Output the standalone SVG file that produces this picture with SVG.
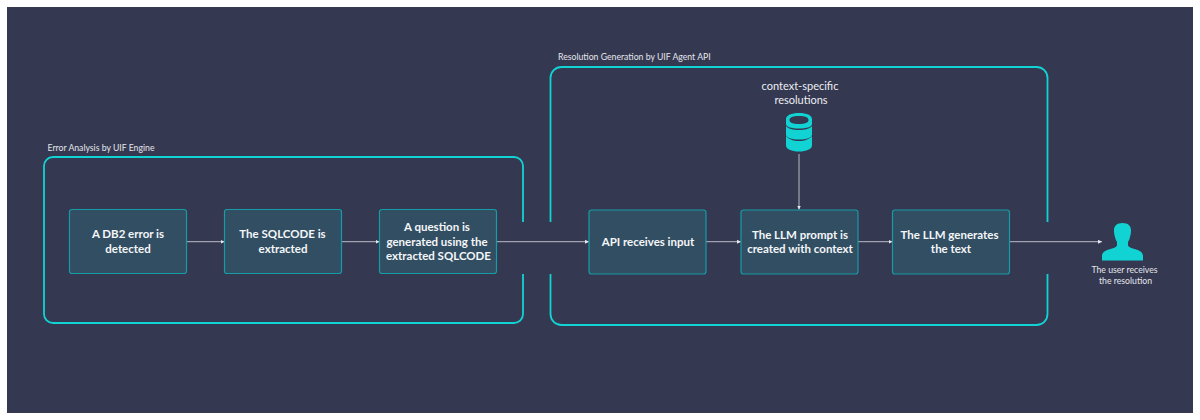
<svg xmlns="http://www.w3.org/2000/svg" width="1200" height="420" viewBox="0 0 1200 420">
<style>
text{font-family:"Lato","Noto Sans","Liberation Sans",sans-serif;text-anchor:middle}
.box{fill:#324e63;stroke:#169ca6;stroke-width:1.2}
.t{font-size:11.5px;font-weight:700;fill:#f4f6f8}
.frame{fill:none;stroke:#12d3d3;stroke-width:1.8}
.lab{font-size:8.7px;fill:#e4e6ec;text-anchor:start}
.c{stroke:#c8cad4;stroke-width:.9;fill:none;marker-end:url(#a)}
.small{font-size:8.7px;fill:#e4e6ec}
.mid{font-size:11px;fill:#eceef2}
.ic{fill:#12d3d3}
</style>
<defs>
<marker id="a" markerWidth="5" markerHeight="5" refX="4" refY="2.5" orient="auto" markerUnits="userSpaceOnUse"><path d="M0 .5L4 2.500L0 4.500z" fill="#e4e6ec"/></marker>
</defs>
<rect x="0" y="0" width="1200" height="420" fill="#fff"/>
<rect x="7" y="7" width="1186" height="406" fill="#343850"/>
<g id="frames">
<path class="frame" d="M523 222V166a9 9 0 0 0-9-9H53a9 9 0 0 0-9 9V314a9 9 0 0 0 9 9H514a9 9 0 0 0 9-9V274"/>
<path class="frame" d="M550.500 222V78a11 11 0 0 1 11-11H1036.500a11 11 0 0 1 11 11V222M1047.500 274V314a11 11 0 0 1-11 11H561.500a11 11 0 0 1-11-11V274"/>
<text class="lab" x="47.500" y="151">Error Analysis by UIF Engine</text>
<text class="lab" x="558" y="60">Resolution Generation by UIF Agent API</text>
</g>
<g id="connectors">
<path class="c" d="M186.500 241.700H224.500"/>
<path class="c" d="M341.500 241.700H379.500"/>
<path class="c" d="M496.500 241.700H589"/>
<path class="c" d="M706 241.700H741"/>
<path class="c" d="M858 241.700H892.500"/>
<path class="c" d="M1009.500 241.700H1102"/>
<path class="c" d="M799 154V209.500"/>
</g>
<g id="n1"><rect class="box" x="69.500" y="209.500" width="117" height="64" rx="2.500"/>
<text class="t" x="128" y="238">A DB2 error is</text><text class="t" x="128" y="252.500">detected</text></g>
<g id="n2"><rect class="box" x="224.500" y="209.500" width="117" height="64" rx="2.500"/>
<text class="t" x="282.500" y="238">The SQLCODE is</text><text class="t" x="283" y="252.500">extracted</text></g>
<g id="n3"><rect class="box" x="379.500" y="209.500" width="117" height="64" rx="2.500"/>
<text class="t" x="437" y="231">A question is</text><text class="t" x="437" y="245.500">generated using the</text><text class="t" x="438.500" y="259.500">extracted SQLCODE</text></g>
<g id="n4"><rect class="box" x="589" y="210" width="117" height="64" rx="2.500"/>
<text class="t" x="648" y="245.700">API receives input</text></g>
<g id="n5"><rect class="box" x="741" y="210" width="117" height="64" rx="2.500"/>
<text class="t" x="800" y="239">The LLM prompt is</text><text class="t" x="800" y="252.500">created with context</text></g>
<g id="n6"><rect class="box" x="892.500" y="210" width="117" height="64" rx="2.500"/>
<text class="t" x="949.500" y="238.700">The LLM generates</text><text class="t" x="951" y="252.500">the text</text></g>
<g id="db">
<text class="mid" x="800" y="90">context-specific</text><text class="mid" x="801" y="103.500">resolutions</text>
<path class="ic" fill-rule="evenodd" d="M786 119c0-3.800 5.500-6 13-6s13 2.200 13 6v5c0 3-5.500 4.500-13 4.500s-13-1.500-13-4.500zM799 116c-6 0-9.500 1.300-9.500 4s3.500 4 9.500 4 9.500-1.300 9.500-4-3.500-4-9.500-4z"/>
<path class="ic" d="M786 126c2 2.600 7 4 13 4s11-1.400 13-4v8.500c0 3.500-5.500 5-13 5s-13-1.500-13-5z"/>
<path class="ic" d="M786 136c2 2.900 7 5 13 5s11-2.100 13-5v9.500c0 3.500-5.500 6-13 6s-13-2.500-13-6z"/>
</g>
<g id="user">
<path class="ic" d="M1122.500 223c-5.500 0-8.500 2.700-8.500 7.500 0 3 .5 5 1 6.500.5 2 1 3.500 2 5v3.500c-.5 1.500-3 2.500-6.500 3.500-4.500 1.300-8.500 3-8.500 7v4.500H1143v-4.500c0-4-4-5.700-8.500-7-3.500-1-6-2-6.500-3.500V242c1-1.500 1.500-3 2-5 .5-1.500 1-3.500 1-6.500 0-4.800-3-7.500-8.500-7.500z"/>
<text class="small" x="1124.500" y="272.800">The user receives</text><text class="small" x="1125.500" y="283.500">the resolution</text>
</g>
</svg>
